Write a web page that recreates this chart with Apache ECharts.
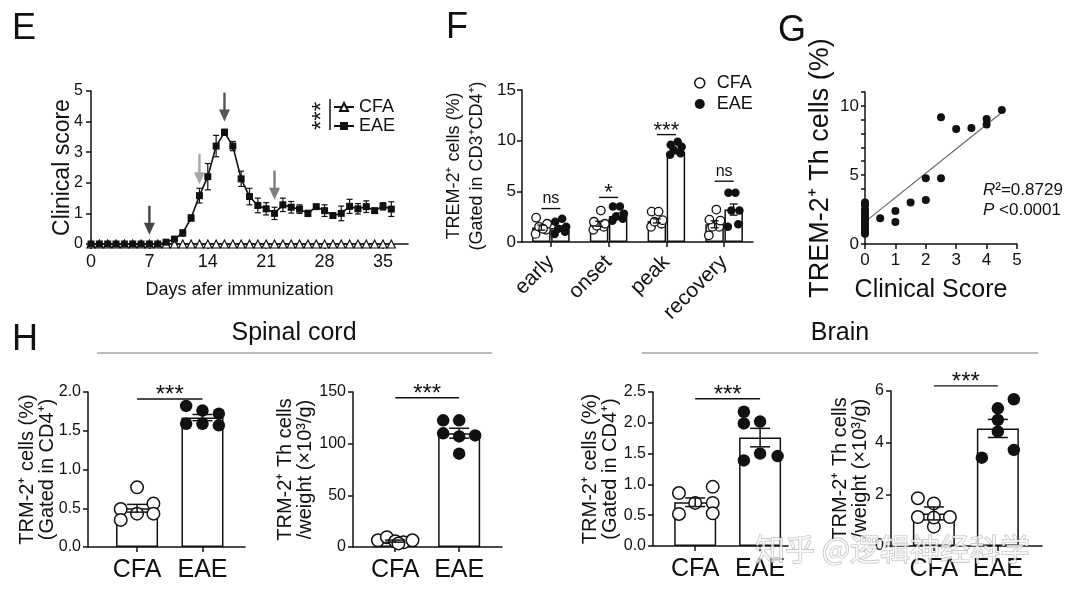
<!DOCTYPE html>
<html><head><meta charset="utf-8">
<script src="https://cdn.jsdelivr.net/npm/echarts@6/dist/echarts.min.js"></script>
<style>html,body{margin:0;padding:0;background:#fff}#c{width:1080px;height:594px}</style>
</head><body><div id="c"></div>
<script>
const FONT = '"Liberation Sans", Arial, Helvetica, sans-serif';
const INK = '#111';

// ---------- Panel E : clinical score ----------
const eDays = [0,1,2,3,4,5,6,7,8,9,10,11,12,13,14,15,16,17,18,19,20,21,22,23,24,25,26,27,28,29,30,31,32,33,34,35,36];
const eEaeMean = [0,0,0,0,0,0,0,0,0,0.06,0.16,0.36,0.85,1.58,2.2,3.2,3.65,3.2,2.13,1.55,1.26,1.15,1.0,1.28,1.2,1.14,1.0,1.22,1.09,0.93,1.0,1.23,1.15,1.22,1.09,1.23,1.14];
const eEaeSem  = [0,0,0,0,0,0,0,0,0,0.03,0.05,0.1,0.1,0.24,0.43,0.35,0.1,0.15,0.25,0.27,0.24,0.2,0.2,0.22,0.19,0.14,0.1,0.05,0.19,0.08,0.24,0.23,0.17,0.19,0.08,0.12,0.24];
const eCfaMean = [0,0,0,0,0,0,0,0,0,0,0,0,0,0,0,0,0,0,0,0,0,0,0,0,0,0,0,0,0,0,0,0,0,0,0,0,0];
const eCfaSem  = [0,0,0,0,0,0,0,0,0,0,0,0,0,0,0,0,0.05,0,0,0,0,0,0.05,0,0,0,0,0,0.05,0,0,0,0,0,0,0.05,0];
const eTicks = [0,7,14,21,28,35];
const eArrowDays = [7,13,16,22];
const eArrowTop  = [1.25,2.95,4.95,2.4];
const eArrowTip  = [0.3,1.95,4.0,1.45];
const eArrowColor = ['#444','#a6a6a6','#555','#7d7d7d'];

// ---------- Panel F : TREM-2+ cells by stage ----------
const fCats = ['early','onset','peak','recovery'];
const fCfaMean = [1.42,1.8,2.08,1.75];
const fCfaSem  = [0.25,0.25,0.2,0.35];
const fEaeMean = [1.39,2.57,8.9,3.2];
const fEaeSem  = [0.2,0.3,0.2,0.55];
const fCfaDots = [[0.8,1.2,1.5,1.8,2.4,1.3],[1.2,1.5,1.6,1.8,2.0,3.1],[1.5,1.8,2.0,2.15,3.0,3.0],[0.66,1.5,1.5,2.1,2.2,3.2]];
const fEaeDots = [[0.8,1.0,1.3,1.5,2.0,2.3],[2.1,2.3,2.5,2.8,3.5,3.5],[8.6,8.75,9.1,9.4,9.6,9.9],[1.5,1.75,3.1,3.1,4.85,4.85]];
const fJitter = [-0.1,0.08,-0.04,0.1,-0.09,0.03];
const fSigY = [3.3,4.4,10.6,6.0];
const fSigText = ['ns','*','***','ns'];

// ---------- Panel G : correlation ----------
const gX = [0,0,0,0,0,0,0,0,0,0,0,0,0.5,1,1,1.5,2,2,2.5,2.5,3,3.5,4,4,4.5];
const gY = [3.0,2.8,2.5,2.3,2.1,1.9,1.7,1.5,1.3,1.1,0.9,0.75,1.86,2.38,1.6,3.0,4.76,3.19,9.17,4.76,8.33,8.4,9.05,8.64,9.7];
const gFitX = [0,4.6];
const gFitY = [1.6,9.7];

// ---------- Panel H : spinal cord / brain ----------
const hGroups = ['CFA','EAE'];
const hOff = [-0.25,0,-0.25,0,0.25,0.25];
const h1Mean = [0.5,1.67];   const h1Sem = [0.05,0.04];
const h1Cfa = [0.49,0.77,0.35,0.43,0.56,0.43];
const h1Eae = [1.82,1.76,1.59,1.59,1.72,1.57];
const h2Mean = [5.7,110.1];  const h2Sem = [1.0,4.8];
const h2Cfa = [6.5,9.5,5.5,4.5,6.5,3.5];
const h2CfaOff = [-0.27,-0.13,0,0.13,0.27,0.05];
const h2Eae = [122.6,122.6,110,107,108,90.3];
const h2EaeOff = [-0.25,0,-0.25,0,0.25,0];
const h3Mean = [0.71,1.76];  const h3Sem = [0.07,0.15];
const h3Cfa = [0.86,0.70,0.52,0.96,0.70,0.53];
const h3CfaOff = [-0.25,0,-0.25,0.27,0.27,0.27];
const h3Eae = [2.18,2.02,1.99,1.50,1.39,1.46];
const h3EaeOff = [-0.25,0,-0.25,0,-0.25,0.27];
const h4Mean = [1.26,4.55]; const h4Sem = [0.25,0.35];
const h4Cfa = [1.85,1.65,1.12,0.75,1.12,1.1];
const h4CfaOff = [-0.25,0,-0.25,0,0.25,0];
const h4Eae = [3.42,5.33,4.88,4.43,5.68,3.72];
const h4EaeOff = [-0.25,0,0,0,0.25,0.25];
const hSigY = [1.91,144.5,2.39,6.2];

// ---------- helpers ----------
function errBar(cap, lw){
  return function(params, api){
    const x=api.value(0), m=api.value(1), s=api.value(2);
    if(!(s>0)) return {type:'group', children:[]};
    const p1=api.coord([x,m+s]), p2=api.coord([x,m-s]);
    const st={stroke:INK, lineWidth:lw};
    return {type:'group', children:[
      {type:'line', shape:{x1:p1[0],y1:p1[1],x2:p2[0],y2:p2[1]}, style:st},
      {type:'line', shape:{x1:p1[0]-cap/2,y1:p1[1],x2:p1[0]+cap/2,y2:p1[1]}, style:st},
      {type:'line', shape:{x1:p2[0]-cap/2,y1:p2[1],x2:p2[0]+cap/2,y2:p2[1]}, style:st}
    ]};
  };
}
function sigRender(texts, fsStar, fsText){
  return function(params, api){
    const y=api.value(2);
    const a=api.coord([api.value(0), y]), b=api.coord([api.value(1), y]);
    const t=texts[params.dataIndex];
    const star=t.indexOf('*')>=0;
    const fs=star?fsStar:fsText;
    const off=star?(9.5-0.25*fs):(8.5+0.07*fs);
    return {type:'group', children:[
      {type:'line', shape:{x1:a[0],y1:a[1],x2:b[0],y2:b[1]}, style:{stroke:INK,lineWidth:1.4}},
      {type:'text', x:(a[0]+b[0])/2, y:a[1]-off, style:{text:t, fontSize:fs, fill:INK, align:'center', verticalAlign:'middle', fontFamily:FONT}}
    ]};
  };
}
function arrowRender(params, api){
  const d=api.value(0), top=api.value(1), tip=api.value(2);
  const a=api.coord([d,top]), b=api.coord([d,tip]);
  const c=eArrowColor[params.dataIndex];
  const hl=12, hw=5.5;
  return {type:'group', children:[
    {type:'line', shape:{x1:a[0],y1:a[1],x2:b[0],y2:b[1]-hl+1}, style:{stroke:c,lineWidth:2.4}},
    {type:'polygon', shape:{points:[[b[0]-hw,b[1]-hl],[b[0]+hw,b[1]-hl],[b[0],b[1]]]}, style:{fill:c}}
  ]};
}
const lineSt = {color:INK, width:1.5};
function baseAxis(o){
  return Object.assign({
    axisLine:{show:true, onZero:false, lineStyle:lineSt},
    axisTick:{show:true, length:5, lineStyle:lineSt},
    splitLine:{show:false},
    nameMoveOverlap:false
  }, o);
}
const openDot = {color:'#fff', borderColor:INK, borderWidth:1.5, opacity:1};
const fullDot = {color:INK, opacity:1};

// ---------- grids ----------
const grids = [
  {left:91, top:91, width:317, height:153},   // E
  {left:522, top:90, width:231, height:152},  // F
  {left:865, top:92, width:152, height:152},  // G
  {left:88, top:392, width:157, height:155},  // H1
  {left:353, top:392, width:149, height:155}, // H2
  {left:653, top:392, width:135, height:154}, // H3
  {left:891, top:391, width:151, height:155}  // H4
].map(g=>Object.assign({outerBoundsMode:'none', containLabel:false}, g));

const hx = (gi,min,max)=>baseAxis({type:'value', gridIndex:gi, min:min, max:max,
  axisLabel:{customValues:[1,2], formatter:v=>hGroups[Math.round(v)-1], fontSize:25, color:INK, margin:11},
  axisTick:{show:true, length:5, lineStyle:lineSt, customValues:[1,2]}});
const hy = (gi,max,intv,name,gap,fmt)=>baseAxis({type:'value', gridIndex:gi, min:0, max:max, interval:intv,
  axisLabel:{fontSize:16, color:INK, margin:7, formatter:fmt},
  name:name, nameLocation:'middle', nameRotate:90, nameGap:gap,
  nameTextStyle:{fontSize:20, lineHeight:20, color:INK}});

const xAxes = [
  baseAxis({type:'value', gridIndex:0, min:0, max:38,
    axisLabel:{customValues:eTicks, fontSize:18, color:INK, margin:9},
    axisTick:{show:true, length:5, lineStyle:lineSt, customValues:eTicks},
    name:'Days afer immunization', nameLocation:'middle', nameGap:37,
    nameTextStyle:{fontSize:18, color:INK, padding:[0,20,0,0]}}),
  baseAxis({type:'value', gridIndex:1, min:0.5, max:4.5,
    axisLabel:{customValues:[1,2,3,4], formatter:v=>fCats[Math.round(v)-1], rotate:45, fontSize:21, color:INK, margin:17, padding:[14,0,0,0]},
    axisTick:{show:true, length:5, lineStyle:lineSt, customValues:[1,2,3,4]}}),
  baseAxis({type:'value', gridIndex:2, min:0, max:5, interval:1,
    axisLabel:{fontSize:17, color:INK, margin:8},
    name:'Clinical Score', nameLocation:'middle', nameGap:34,
    nameTextStyle:{fontSize:25, color:INK, padding:[0,20,0,0]}}),
  hx(3,0.25,2.65), hx(4,0.34,2.67), hx(5,0.35,2.43), hx(6,0.33,2.69)
];
const yAxes = [
  baseAxis({type:'value', gridIndex:0, min:0, max:5, interval:1,
    axisLabel:{fontSize:16, color:INK, margin:8},
    name:'Clinical score', nameLocation:'middle', nameRotate:90, nameGap:17,
    nameTextStyle:{fontSize:23, color:INK}}),
  baseAxis({type:'value', gridIndex:1, min:0, max:15, interval:5,
    axisLabel:{fontSize:17, color:INK, margin:6},
    name:'TREM-2\u207A cells (%)\n(Gated in CD3\u207ACD4\u207A)', nameLocation:'middle', nameRotate:90, nameGap:33,
    nameTextStyle:{fontSize:18, lineHeight:23, color:INK}}),
  baseAxis({type:'value', gridIndex:2, min:0, max:11, interval:1,
    axisLabel:{fontSize:17, color:INK, margin:6, formatter:v=>(v%5===0?String(v):'')},
    axisTick:{show:true, length:4, lineStyle:lineSt},
    name:'TREM-2\u207A Th cells (%)', nameLocation:'middle', nameRotate:90, nameGap:31,
    nameTextStyle:{fontSize:27, color:INK}}),
  hy(3,2,0.5,'TRM-2\u207A cells (%)\n(Gated in CD4\u207A)',31,v=>v.toFixed(1)),
  hy(4,150,50,'TRM-2\u207A Th cells\n/weight (\u00D710\u00B3/g)',38,v=>String(v)),
  hy(5,2.5,0.5,'TRM-2\u207A cells (%)\n(Gated in CD4\u207A)',33,v=>v.toFixed(1)),
  hy(6,6,2,'TRM-2\u207A Th cells\n/weight (\u00D710\u00B3/g)',21,v=>String(v))
];

const series = [];
// --- E
series.push({type:'custom', name:'E err', xAxisIndex:0, yAxisIndex:0, renderItem:errBar(6,1.2), clip:false, z:3,
  data:eDays.map((d,i)=>[d,eEaeMean[i],eEaeSem[i]])});
series.push({type:'custom', name:'E err cfa', xAxisIndex:0, yAxisIndex:0, renderItem:errBar(0,1.2), clip:false, z:3,
  data:eDays.map((d,i)=>[d,eCfaMean[i],eCfaSem[i]])});
series.push({type:'line', name:'CFA', xAxisIndex:0, yAxisIndex:0, data:eDays.map((d,i)=>[d,eCfaMean[i]]),
  symbol:'triangle', symbolSize:8, showSymbol:true, showAllSymbol:true,
  itemStyle:{color:'#fff', borderColor:INK, borderWidth:1.2}, lineStyle:{color:INK, width:1.5}, z:4});
series.push({type:'line', name:'EAE', xAxisIndex:0, yAxisIndex:0, data:eDays.map((d,i)=>[d,eEaeMean[i]]),
  symbol:'rect', symbolSize:7, showSymbol:true, showAllSymbol:true,
  itemStyle:{color:INK}, lineStyle:{color:INK, width:1.6}, z:5});
series.push({type:'custom', name:'E arrows', xAxisIndex:0, yAxisIndex:0, renderItem:arrowRender, clip:false, z:6,
  data:eArrowDays.map((d,i)=>[d,eArrowTop[i],eArrowTip[i]])});

// --- F
const fBarX=[], fErr=[];
fCats.forEach((c,g)=>{
  fBarX.push([g+1-0.165, fCfaMean[g]]); fBarX.push([g+1+0.165, fEaeMean[g]]);
  fErr.push([g+1-0.165, fCfaMean[g], fCfaSem[g]]); fErr.push([g+1+0.165, fEaeMean[g], fEaeSem[g]]);
});
series.push({type:'bar', name:'F bars', xAxisIndex:1, yAxisIndex:1, data:fBarX, barWidth:18.5,
  itemStyle:{color:'#fff', borderColor:INK, borderWidth:1.5}, z:2});
const fCfaPts=[], fEaePts=[];
fCats.forEach((c,g)=>{
  fCfaDots[g].forEach((v,k)=>fCfaPts.push([g+1-0.165+fJitter[k], v]));
  fEaeDots[g].forEach((v,k)=>fEaePts.push([g+1+0.165+fJitter[k], v]));
});
series.push({type:'scatter', name:'CFA_F', xAxisIndex:1, yAxisIndex:1, data:fCfaPts, symbolSize:8.5,
  itemStyle:{color:'#fff', borderColor:INK, borderWidth:1.3, opacity:1}, z:4});
series.push({type:'scatter', name:'EAE_F', xAxisIndex:1, yAxisIndex:1, data:fEaePts, symbolSize:8.5,
  itemStyle:fullDot, z:4});
series.push({type:'custom', name:'F err', xAxisIndex:1, yAxisIndex:1, renderItem:errBar(8,1.3), clip:false, z:5, data:fErr});
series.push({type:'custom', name:'F sig', xAxisIndex:1, yAxisIndex:1, renderItem:sigRender(fSigText,22,16), clip:false, z:5,
  data:fSigY.map((y,g)=>[g+1-0.165, g+1+0.165, y])});

// --- G
series.push({type:'scatter', name:'G pts', xAxisIndex:2, yAxisIndex:2, data:gX.map((x,i)=>[x,gY[i]]), symbolSize:8,
  itemStyle:fullDot, z:4});
series.push({type:'line', name:'G fit', xAxisIndex:2, yAxisIndex:2, data:gFitX.map((x,i)=>[x,gFitY[i]]), symbol:'none',
  lineStyle:{color:'#666', width:1.2}, z:3});

// --- H
function hPanel(gi, mean, sem, cfa, cfaOff, eae, eaeOff, sigY){
  series.push({type:'bar', name:'H bars '+gi, xAxisIndex:gi, yAxisIndex:gi, data:[[1,mean[0]],[2,mean[1]]], barWidth:42,
    itemStyle:{color:'#fff', borderColor:INK, borderWidth:1.5}, z:2});
  series.push({type:'scatter', name:'H cfa '+gi, xAxisIndex:gi, yAxisIndex:gi, data:cfa.map((v,k)=>[1+cfaOff[k],v]),
    symbolSize:12.5, itemStyle:openDot, z:4});
  series.push({type:'scatter', name:'H eae '+gi, xAxisIndex:gi, yAxisIndex:gi, data:eae.map((v,k)=>[2+eaeOff[k],v]),
    symbolSize:12.5, itemStyle:fullDot, z:4});
  series.push({type:'custom', name:'H err '+gi, xAxisIndex:gi, yAxisIndex:gi, renderItem:errBar(20,1.5), clip:false, z:5,
    data:[[1,mean[0],sem[0]],[2,mean[1],sem[1]]]});
  series.push({type:'custom', name:'H sig '+gi, xAxisIndex:gi, yAxisIndex:gi, renderItem:sigRender(['***'],24,16), clip:false, z:5,
    data:[[1,2,sigY]]});
}
hPanel(3,h1Mean,h1Sem,h1Cfa,hOff,h1Eae,hOff,hSigY[0]);
hPanel(4,h2Mean,h2Sem,h2Cfa,h2CfaOff,h2Eae,h2EaeOff,hSigY[1]);
hPanel(5,h3Mean,h3Sem,h3Cfa,h3CfaOff,h3Eae,h3EaeOff,hSigY[2]);
hPanel(6,h4Mean,h4Sem,h4Cfa,h4CfaOff,h4Eae,h4EaeOff,hSigY[3]);

const txt = (x,y,t,fs,extra)=>Object.assign({type:'text', x:x, y:y, z:50,
  style:Object.assign({text:t, fontSize:fs, fill:INK, fontFamily:FONT, align:'left', verticalAlign:'middle'}, extra||{})});

const graphic = [
  txt(12,29,'E',36), txt(446,28,'F',36), txt(778,31,'G',36), txt(12,340,'H',36),
  txt(294,333,'Spinal cord',25,{align:'center'}),
  txt(840,333,'Brain',25,{align:'center'}),
  {type:'line', shape:{x1:97,y1:353,x2:492,y2:353}, style:{stroke:'#777', lineWidth:1.2}},
  {type:'line', shape:{x1:642,y1:353,x2:1038,y2:353}, style:{stroke:'#777', lineWidth:1.2}},
  {type:'text', x:322, y:116, rotation:Math.PI/2, z:50,
    style:{text:'***', fontSize:24, fill:INK, fontFamily:FONT, align:'center', verticalAlign:'middle'}},
  {type:'line', shape:{x1:330,y1:99,x2:330,y2:130}, style:{stroke:INK, lineWidth:1.5}},
  {type:'text', x:983, y:190, z:50, style:{text:'{i|R}\u00B2=0.8729', fontSize:17, fill:INK, fontFamily:FONT,
    verticalAlign:'middle', rich:{i:{fontStyle:'italic', fontSize:17, fontFamily:FONT, fill:INK}}}},
  {type:'text', x:983, y:210, z:50, style:{text:'{i|P} <0.0001', fontSize:17, fill:INK, fontFamily:FONT,
    verticalAlign:'middle', rich:{i:{fontStyle:'italic', fontSize:17, fontFamily:FONT, fill:INK}}}},
  {type:'text', x:755, y:549, z:100, style:{text:'知乎 @逻辑神经科学', fontSize:30,
    fontFamily:'"Noto Sans CJK SC", sans-serif', fill:'rgba(255,255,255,0.75)', stroke:'rgba(120,120,120,0.5)', lineWidth:1.2,
    verticalAlign:'middle'}}
];

const chart = echarts.init(document.getElementById('c'), null, {renderer:'canvas'});
chart.setOption({
  animation:false,
  backgroundColor:'#fff',
  textStyle:{fontFamily:FONT, color:INK},
  grid:grids, xAxis:xAxes, yAxis:yAxes, series:series, graphic:graphic,
  legend:[
    {left:333, top:98, orient:'vertical', itemWidth:20, itemHeight:10, itemGap:1, padding:0,
      data:['CFA','EAE'], textStyle:{fontSize:18, color:INK}, selectedMode:false},
    {left:694, top:74, orient:'vertical', itemWidth:24, itemHeight:10, itemGap:3, padding:0, selectedMode:false,
      data:[{name:'CFA_F', icon:'circle', itemStyle:{color:'#fff', borderColor:INK, borderWidth:1.5}},
            {name:'EAE_F', icon:'circle', itemStyle:{color:INK}}],
      formatter:n=>n.split('_')[0], textStyle:{fontSize:18, color:INK}}
  ]
});
</script>
</body></html>
